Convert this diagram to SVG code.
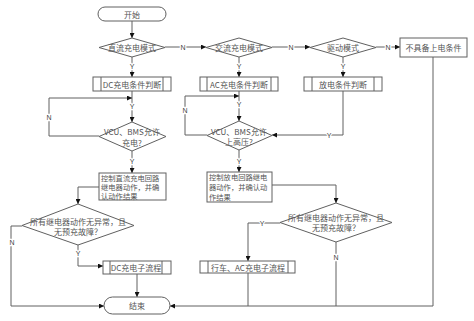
<svg xmlns="http://www.w3.org/2000/svg" width="474" height="321" viewBox="0 0 474 321">
<style>
.s{fill:#fff;stroke:#606060;stroke-width:1}
.l{fill:none;stroke:#606060;stroke-width:1}
.t{font-family:"Noto Sans CJK SC","Liberation Sans",sans-serif;font-size:8px;fill:#555;text-anchor:middle;dominant-baseline:central}
.tl{text-anchor:start;font-size:7.3px}
.lb{font-family:"Liberation Sans",sans-serif;font-size:7px;fill:#444;text-anchor:middle;dominant-baseline:central;stroke:#fff;stroke-width:2.5px;paint-order:stroke}
</style>
<defs>
<marker id="a" viewBox="0 0 10 10" refX="10" refY="5" markerWidth="5" markerHeight="5" orient="auto" markerUnits="userSpaceOnUse">
<path d="M0,0 L10,5 L0,10 z" fill="#111"/>
</marker>
</defs>
<g id="connectors">
<path class="l" d="M132,21 V38" marker-end="url(#a)"/>
<path class="l" d="M165,47 H206" marker-end="url(#a)"/>
<path class="l" d="M272,47 H310" marker-end="url(#a)"/>
<path class="l" d="M376,47 H400" marker-end="url(#a)"/>
<path class="l" d="M132,57 V77" marker-end="url(#a)"/>
<path class="l" d="M239,57 V77" marker-end="url(#a)"/>
<path class="l" d="M343,57 V77" marker-end="url(#a)"/>
<path class="l" d="M132,91 V122" marker-end="url(#a)"/>
<path class="l" d="M99,136 H49 V98 H132" marker-end="url(#a)"/>
<path class="l" d="M132,151 V173" marker-end="url(#a)"/>
<path class="l" d="M99,187 H78 V204" marker-end="url(#a)"/>
<path class="l" d="M78,245 V266 H103" marker-end="url(#a)"/>
<path class="l" d="M22,226 H11 V306 H104" marker-end="url(#a)"/>
<path class="l" d="M137,274 V297" marker-end="url(#a)"/>
<path class="l" d="M239,91 V121" marker-end="url(#a)"/>
<path class="l" d="M207,135 H185 V96 H239" marker-end="url(#a)"/>
<path class="l" d="M343,91 V135 H272" marker-end="url(#a)"/>
<path class="l" d="M239,150 V172" marker-end="url(#a)"/>
<path class="l" d="M272,185 H336 V203" marker-end="url(#a)"/>
<path class="l" d="M280,223 H248 V261" marker-end="url(#a)"/>
<path class="l" d="M336,242 V306"/>
<path class="l" d="M248,273 V306"/>
<path class="l" d="M433,57 V306 H170" marker-end="url(#a)"/>
<text class="lb" x="183" y="47">N</text>
<text class="lb" x="291" y="47">N</text>
<text class="lb" x="388" y="47">N</text>
<text class="lb" x="132" y="66">Y</text>
<text class="lb" x="239" y="66">Y</text>
<text class="lb" x="343" y="66">Y</text>
<text class="lb" x="132" y="106">Y</text>
<text class="lb" x="49" y="117">N</text>
<text class="lb" x="132" y="161">Y</text>
<text class="lb" x="78" y="253">Y</text>
<text class="lb" x="12" y="242">N</text>
<text class="lb" x="239" y="104">Y</text>
<text class="lb" x="185" y="110">N</text>
<text class="lb" x="329" y="135">Y</text>
<text class="lb" x="239" y="161">Y</text>
<text class="lb" x="262" y="223">Y</text>
<text class="lb" x="336" y="257">N</text>
</g>
<g id="start">
<rect class="s" x="98" y="7" width="68" height="14" rx="7"/>
<text class="t" x="132" y="14">开始</text>
</g>
<g id="d1">
<polygon class="s" points="132,38 165,47.5 132,57 99,47.5"/>
<text class="t" x="132" y="47.5">直流充电模式</text>
</g>
<g id="d2">
<polygon class="s" points="239,38 272,47.5 239,57 206,47.5"/>
<text class="t" x="239" y="47.5">交流充电模式</text>
</g>
<g id="d3">
<polygon class="s" points="343,38 376,47.5 343,57 310,47.5"/>
<text class="t" x="343" y="47.5">驱动模式</text>
</g>
<g id="nocond">
<rect class="s" x="400" y="38" width="67" height="19"/>
<text class="t" x="433.5" y="47.5">不具备上电条件</text>
</g>
<g id="dccheck">
<rect class="s" x="93" y="77" width="78" height="14"/>
<path class="l" d="M101,77 V91 M163,77 V91"/>
<text class="t" x="132" y="84">DC充电条件判断</text>
</g>
<g id="accheck">
<rect class="s" x="200" y="77" width="78" height="14"/>
<path class="l" d="M207,77 V91 M271,77 V91"/>
<text class="t" x="239" y="84">AC充电条件判断</text>
</g>
<g id="discheck">
<rect class="s" x="304" y="77" width="78" height="14"/>
<path class="l" d="M312,77 V91 M374,77 V91"/>
<text class="t" x="343" y="84">放电条件判断</text>
</g>
<g id="dcvcu">
<polygon class="s" points="132,122 166,136.5 132,151 99,136.5"/>
<text class="t" x="132" y="131">VCU、BMS允许</text>
<text class="t" x="132" y="142">充电?</text>
</g>
<g id="acvcu">
<polygon class="s" points="239,121 272,135.5 239,150 207,135.5"/>
<text class="t" x="239" y="131">VCU、BMS允许</text>
<text class="t" x="239" y="141">上高压?</text>
</g>
<g id="dcctrl">
<rect class="s" x="99" y="173" width="67" height="27"/>
<text class="t tl" x="101" y="177.5">控制直流充电回路</text>
<text class="t tl" x="101" y="186.5">继电器动作，并确</text>
<text class="t tl" x="101" y="195.5">认动作结果</text>
</g>
<g id="acctrl">
<rect class="s" x="207" y="172" width="65" height="30"/>
<text class="t tl" x="209" y="177">控制放电回路继电</text>
<text class="t tl" x="209" y="187">器动作，并确认动</text>
<text class="t tl" x="209" y="197">作结果</text>
</g>
<g id="d5">
<polygon class="s" points="78,204 134,225.5 78,245 22,225.5"/>
<text class="t" x="78" y="221">所有继电器动作无异常，且</text>
<text class="t" x="78" y="231">无预充故障？</text>
</g>
<g id="d6">
<polygon class="s" points="336,203 392,222.5 336,242 280,222.5"/>
<text class="t" x="336" y="217">所有继电器动作无异常，且</text>
<text class="t" x="336" y="227">无预充故障？</text>
</g>
<g id="dcsub">
<rect class="s" x="103" y="261" width="68" height="13"/>
<path class="l" d="M110,261 V274 M162,261 V274"/>
<text class="t" x="136" y="267.5">DC充电子流程</text>
</g>
<g id="acsub">
<rect class="s" x="200" y="261" width="95" height="12"/>
<path class="l" d="M208,261 V273 M288,261 V273"/>
<text class="t" x="248" y="267">行车、AC充电子流程</text>
</g>
<g id="end">
<rect class="s" x="104" y="297" width="66" height="17" rx="8.5"/>
<text class="t" x="137" y="305.5">结束</text>
</g>
</svg>
